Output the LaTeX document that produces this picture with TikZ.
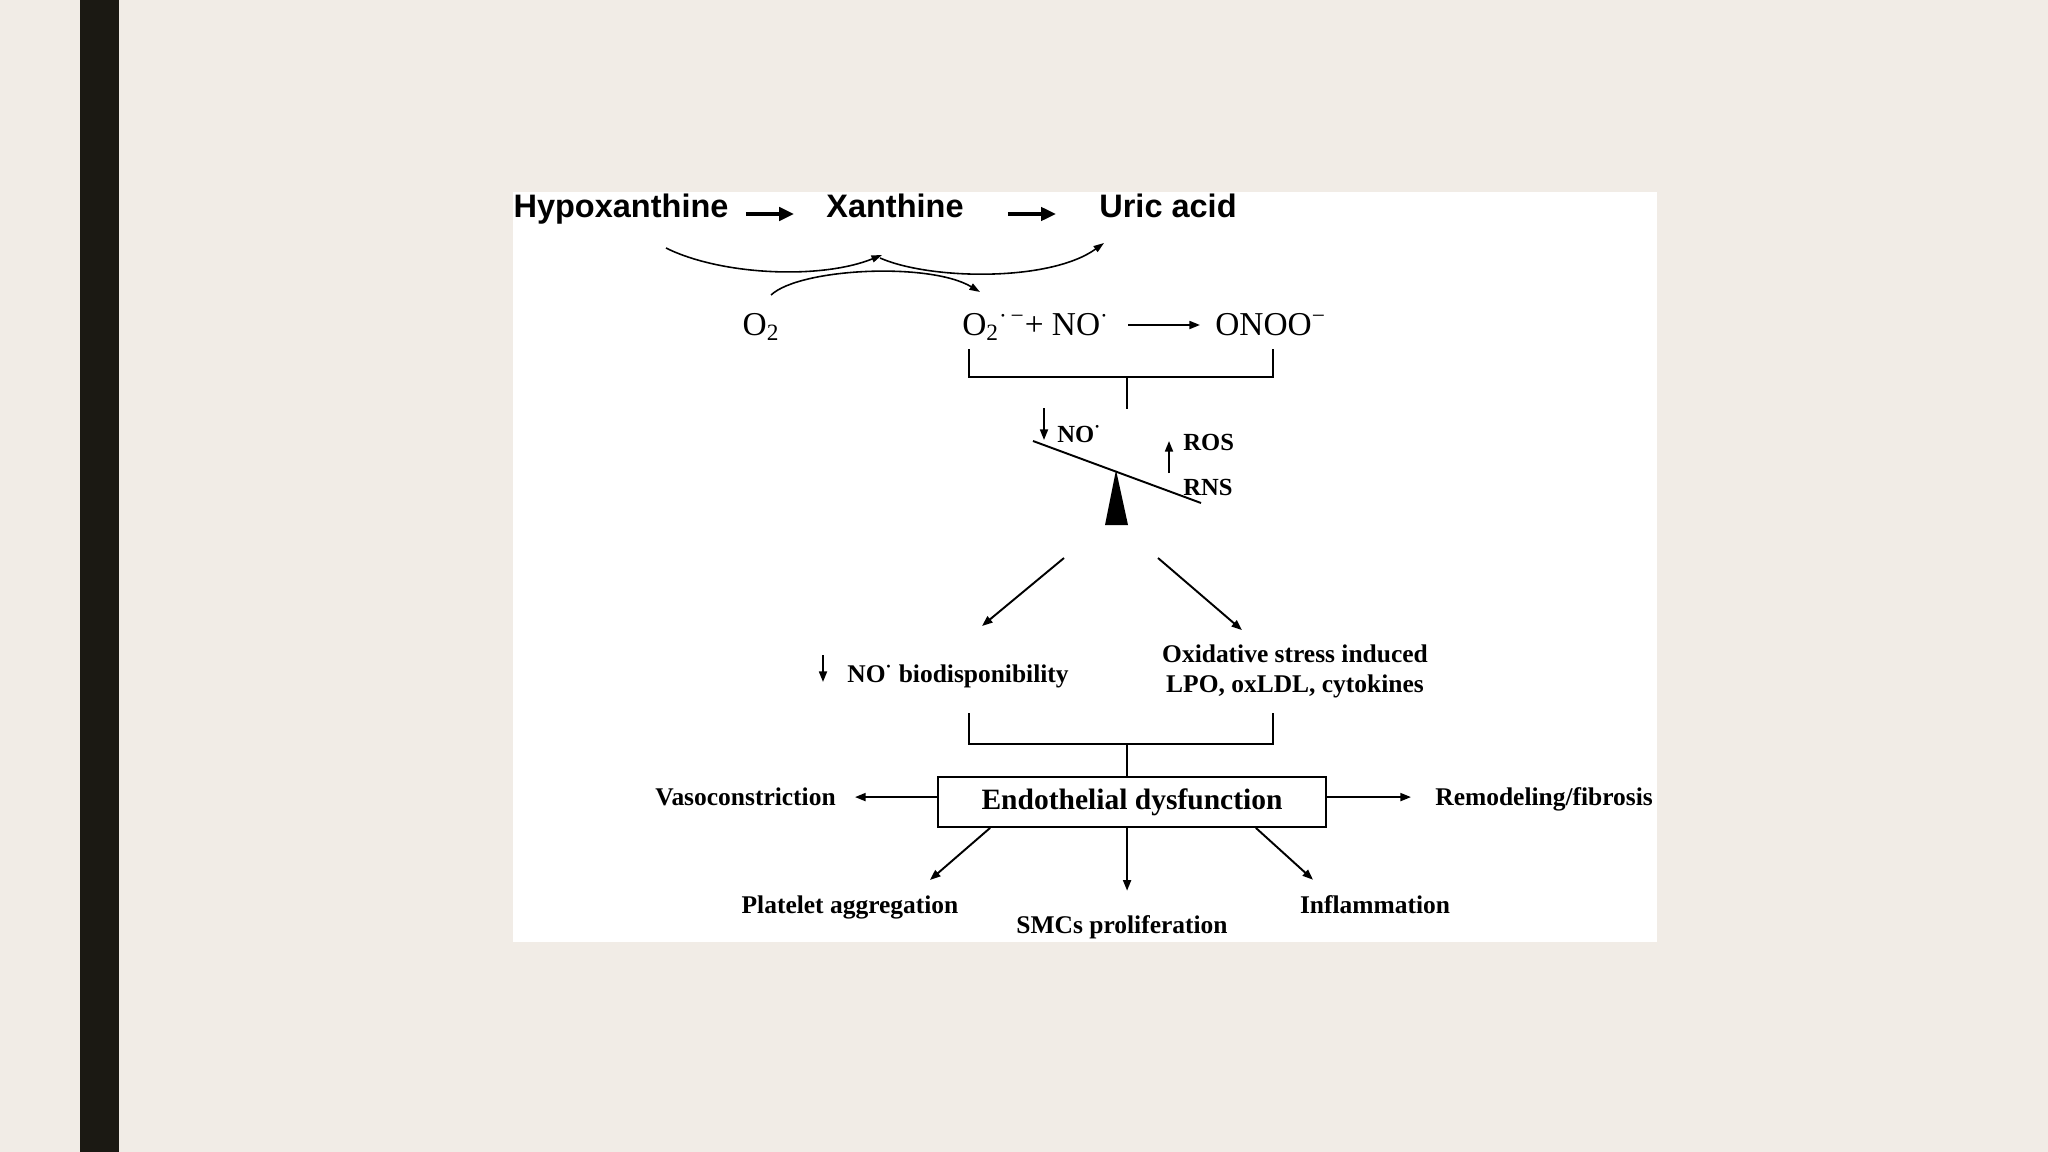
\documentclass[tikz,border=0pt]{standalone}
\usepackage{fontspec}
\setmainfont{Liberation Serif}
\newfontfamily\headfont{Liberation Sans}
\usetikzlibrary{positioning,arrows.meta,calc}
\definecolor{slide}{HTML}{F1ECE6}
\definecolor{sidebar}{HTML}{1B1913}

\begin{document}
\begin{tikzpicture}[
  x=0.02cm, y=-0.02cm,
  chem/.style={font=\headfont\bfseries\fontsize{18.5}{22}\selectfont,
               inner sep=0pt, anchor=base},
  react/.style={font=\fontsize{19}{23}\selectfont, inner sep=0pt, anchor=base},
  lbl/.style={font=\bfseries\fontsize{14.5}{17}\selectfont,
              inner sep=0pt, anchor=base, align=center},
  small/.style={font=\bfseries\fontsize{14}{17}\selectfont,
                inner sep=0pt, anchor=base west},
  endobox/.style={rectangle, draw, line width=1pt, inner sep=0pt,
                  minimum width=7.76cm, minimum height=1cm,
                  font=\bfseries\fontsize{16.8}{20}\selectfont},
  fat/.style={-{Triangle[length=8.5pt,width=7.5pt]}, line width=2.8pt},
  arrow/.style={-{Triangle[length=6pt,width=4.5pt]}, line width=1.1pt},
  curve/.style={-{Triangle[length=6pt,width=4pt]}, line width=0.9pt},
  link/.style={line width=1.1pt}
]
  % slide background
  \useasboundingbox (0,0) rectangle (2048,1152);
  \fill[slide] (0,0) rectangle (2048,1152);
  \fill[sidebar] (80,0) rectangle (119,1152);
  \fill[white] (513,192) rectangle (1657,942);

  % purine pathway
  \node[chem] (hypo) at (621,217) {Hypoxanthine};
  \node[chem] (xan)  at (895,217) {Xanthine};
  \node[chem] (uric) at (1168,217) {Uric acid};
  \draw[fat] ($(hypo.base east)+(17,-3)$) -- ($(xan.base west)+(-32,-3)$);
  \draw[fat] ($(xan.base east)+(44,-3)$) -- ($(uric.base west)+(-43,-3)$);

  % oxygen and radicals
  \node[react] (oxy) at (761,335) {O\textsubscript{2}};
  \node[react,anchor=base west] (rad) at (962,335)
        {O\textsubscript{2}\textsuperscript{·\,−}+ NO\textsuperscript{·}};
  \node[react,anchor=base west] (onoo) at (1215,335) {ONOO\textsuperscript{−}};
  \draw[arrow] ($(rad.base east)+(19,-10)$) -- ($(onoo.base west)+(-15,-10)$);

  \coordinate (c1s) at (666,248);
  \coordinate (c1e) at (882,255);
  \coordinate (c2s) at (880,258);
  \coordinate (c2e) at (1104,243);
  \coordinate (c3s) at (771,295);
  \coordinate (c3e) at (980,292);
  \draw[curve] (c1s) .. controls (720,275) and (820,280) .. (c1e);
  \draw[curve] (c2s) .. controls (930,280) and (1050,282) .. (c2e);
  \draw[curve] (c3s) .. controls (800,268) and (930,262) .. (c3e);

  % first bracket
  \coordinate (b1l) at (969,349);
  \coordinate (b1r) at (1273,349);
  \coordinate (b1m) at (1127,377);
  \coordinate (b1s) at (1127,409);
  \draw[link] (b1l) |- (b1m) -| (b1r);
  \draw[link] (b1m) -- (b1s);

  % balance
  \coordinate (beamL) at (1033,441);
  \coordinate (beamR) at (1201,503);
  \draw[link] (beamL) -- (beamR);
  \fill (1116,470) -- (1128,525) -- (1105,525) -- cycle;
  \node[small] (nobal) at (1057,442) {NO\textsuperscript{·}};
  \node[small] (ros) at (1183,450) {ROS};
  \node[small] (rns) at (1183,495) {RNS};
  \draw[arrow] ($(nobal.base west)+(-13,-34)$) -- ($(nobal.base west)+(-13,-2)$);
  \draw[arrow] ($(ros.base west)+(-14,23)$) -- ($(ros.base west)+(-14,-9)$);

  % two consequences
  \coordinate (splitL) at (1064,558);
  \coordinate (splitR) at (1158,558);
  \node[lbl,anchor=base west] (nobio) at (847,682) {NO\textsuperscript{·} biodisponibility};
  \node[lbl,anchor=center] (oxstress) at (1295,671)
        {Oxidative stress induced\\LPO, oxLDL, cytokines};
  \draw[arrow] (splitL) -- ($(nobio.north)+(24,-38)$);
  \draw[arrow] (splitR) -- ($(oxstress.north)+(-53,-14)$);
  \draw[arrow] ($(nobio.base west)+(-24,-27)$) -- ($(nobio.base west)+(-24,0)$);

  % second bracket
  \coordinate (b2l) at (969,713);
  \coordinate (b2r) at (1273,713);
  \coordinate (b2m) at (1127,744);
  \draw[link] (b2l) |- (b2m) -| (b2r);

  % endothelial dysfunction and effects
  \node[endobox] (endo) at (1132,802) {Endothelial dysfunction};
  \draw[link] (b2m) -- (b2m |- endo.north);

  \node[lbl,anchor=base east] (vaso) at (836,805) {Vasoconstriction};
  \node[lbl,anchor=base west] (remod) at (1435,805) {Remodeling/fibrosis};
  \draw[arrow,shorten >=0.38cm] ([yshift=2.8pt]endo.west) -- ([yshift=2.8pt]endo.west -| vaso.east);
  \draw[arrow,shorten >=0.48cm] ([yshift=2.8pt]endo.east) -- ([yshift=2.8pt]endo.east -| remod.west);

  \node[lbl] (plat) at (850,913) {Platelet aggregation};
  \node[lbl] (smc)  at (1122,933) {SMCs proliferation};
  \node[lbl] (infl) at (1375,913) {Inflammation};
  \draw[arrow] ($(endo.south west)+(53,0)$) -- ($(plat.north)+(80,-15)$);
  \draw[arrow,shorten >=0.48cm] ([xshift=-2.8pt]endo.south) -- ([xshift=-2.8pt]endo.south |- smc.north);
  \draw[arrow] ($(endo.south east)+(-71,0)$) -- ($(infl.north)+(-62,-15)$);
\end{tikzpicture}
\end{document}
